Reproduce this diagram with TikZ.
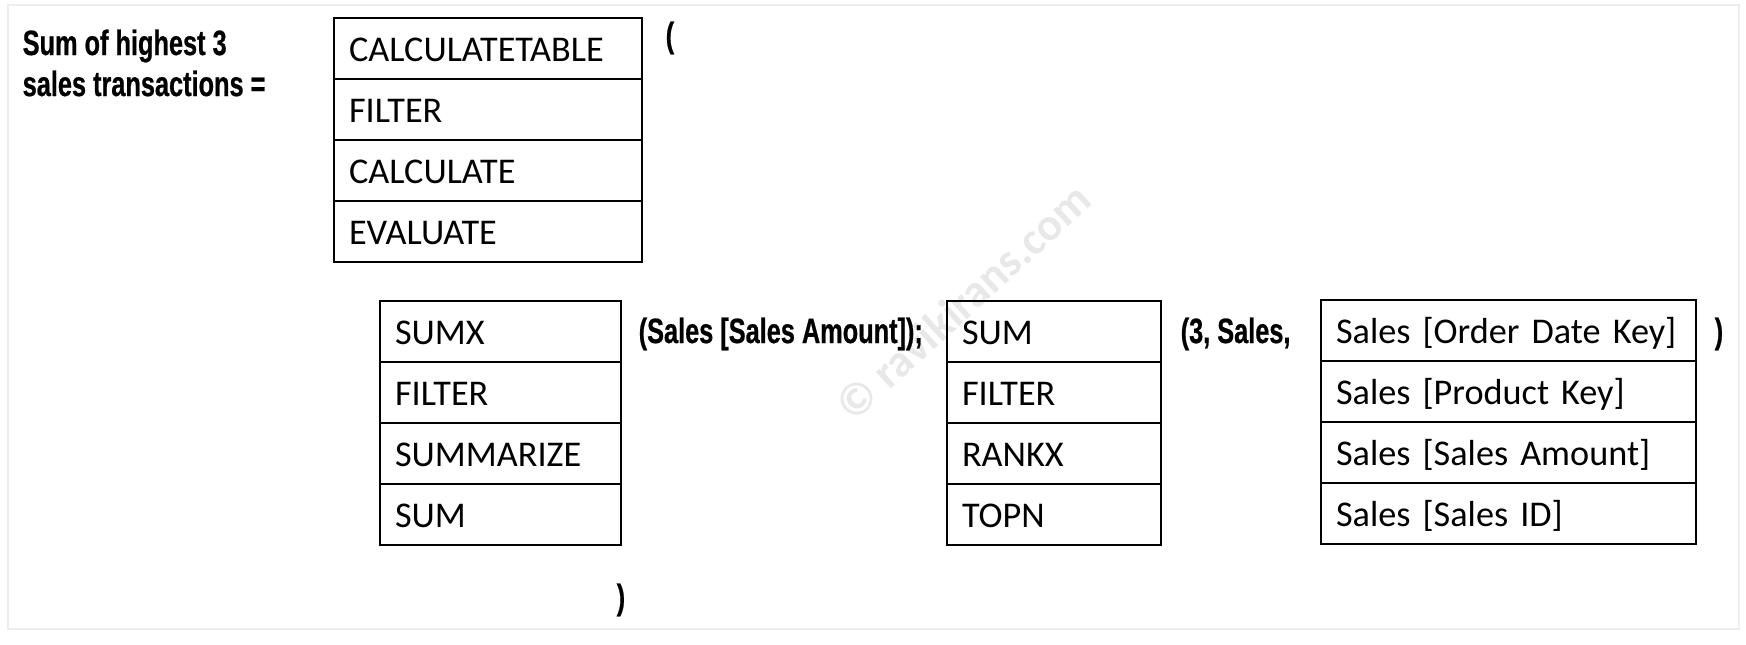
\documentclass[tikz,border=0pt]{standalone}
\usepackage{fontspec}
\setmainfont{Carlito}
\newfontfamily\narrowbold[FakeStretch=0.72, FakeBold=0.6]{Liberation Sans}
\usepackage{tikz}

\begin{document}
\begin{tikzpicture}[x=0.01cm, y=-0.01cm,
  fnrow/.style={draw=black, line width=0.6pt, anchor=north west, font=\fontsize{10.3pt}{12pt}\selectfont, text height=0.3cm, text depth=0.05cm, inner xsep=0.15cm, inner ysep=0pt, minimum height=0.61cm, align=left, text width=#1},
  term/.style={anchor=base west, inner sep=0pt, font=\fontsize{10pt}{12pt}\narrowbold\bfseries}]
\useasboundingbox (0,0) rectangle (1746,644);
\draw[draw=black!7, line width=0.8pt] (8,5) rectangle (1739,629);
\node[text=black!9, rotate=42.5, font=\fontsize{13pt}{15pt}\selectfont\bfseries] (WatermarkT) at (963,302) {\textcopyright{} ravikirans.com};
\node[term] (Sum formulaT1) at (22,55) {Sum of highest 3};
\node[term] (Sum formulaT2) at (22,96) {sales transactions =};
\node[fnrow=2.78cm] (Table functionsN1) at (333,17) {CALCULATETABLE};
\node[fnrow=2.78cm] (Table functionsN2) at (333,78) {FILTER};
\node[fnrow=2.78cm] (Table functionsN3) at (333,139) {CALCULATE};
\node[fnrow=2.78cm] (Table functionsN4) at (333,200) {EVALUATE};
\node[term] (Sum formulaT3) at (665,47) {(};
\node[fnrow=2.11cm] (Iterator functionsN1) at (379,300) {SUMX};
\node[fnrow=2.11cm] (Iterator functionsN2) at (379,361) {FILTER};
\node[fnrow=2.11cm] (Iterator functionsN3) at (379,422) {SUMMARIZE};
\node[fnrow=2.11cm] (Iterator functionsN4) at (379,483) {SUM};
\node[term] (Sum formulaT4) at (638,343) {(Sales [Sales Amount]);};
\node[fnrow=1.84cm] (Filter functionsN1) at (946,300) {SUM};
\node[fnrow=1.84cm] (Filter functionsN2) at (946,361) {FILTER};
\node[fnrow=1.84cm] (Filter functionsN3) at (946,422) {RANKX};
\node[fnrow=1.84cm] (Filter functionsN4) at (946,483) {TOPN};
\node[term] (Sum formulaT5) at (1180,343) {(3, Sales,};
\node[fnrow=3.45cm] (Sales columnsN1) at (1320,299) {Sales [Order Date Key]};
\node[fnrow=3.45cm] (Sales columnsN2) at (1320,360) {Sales [Product Key]};
\node[fnrow=3.45cm] (Sales columnsN3) at (1320,421) {Sales [Sales Amount]};
\node[fnrow=3.45cm] (Sales columnsN4) at (1320,482) {Sales [Sales ID]};
\node[term] (Sum formulaT6) at (1714,343) {)};
\node[term] (Sum formulaT7) at (616,609) {)};
\end{tikzpicture}
\end{document}
